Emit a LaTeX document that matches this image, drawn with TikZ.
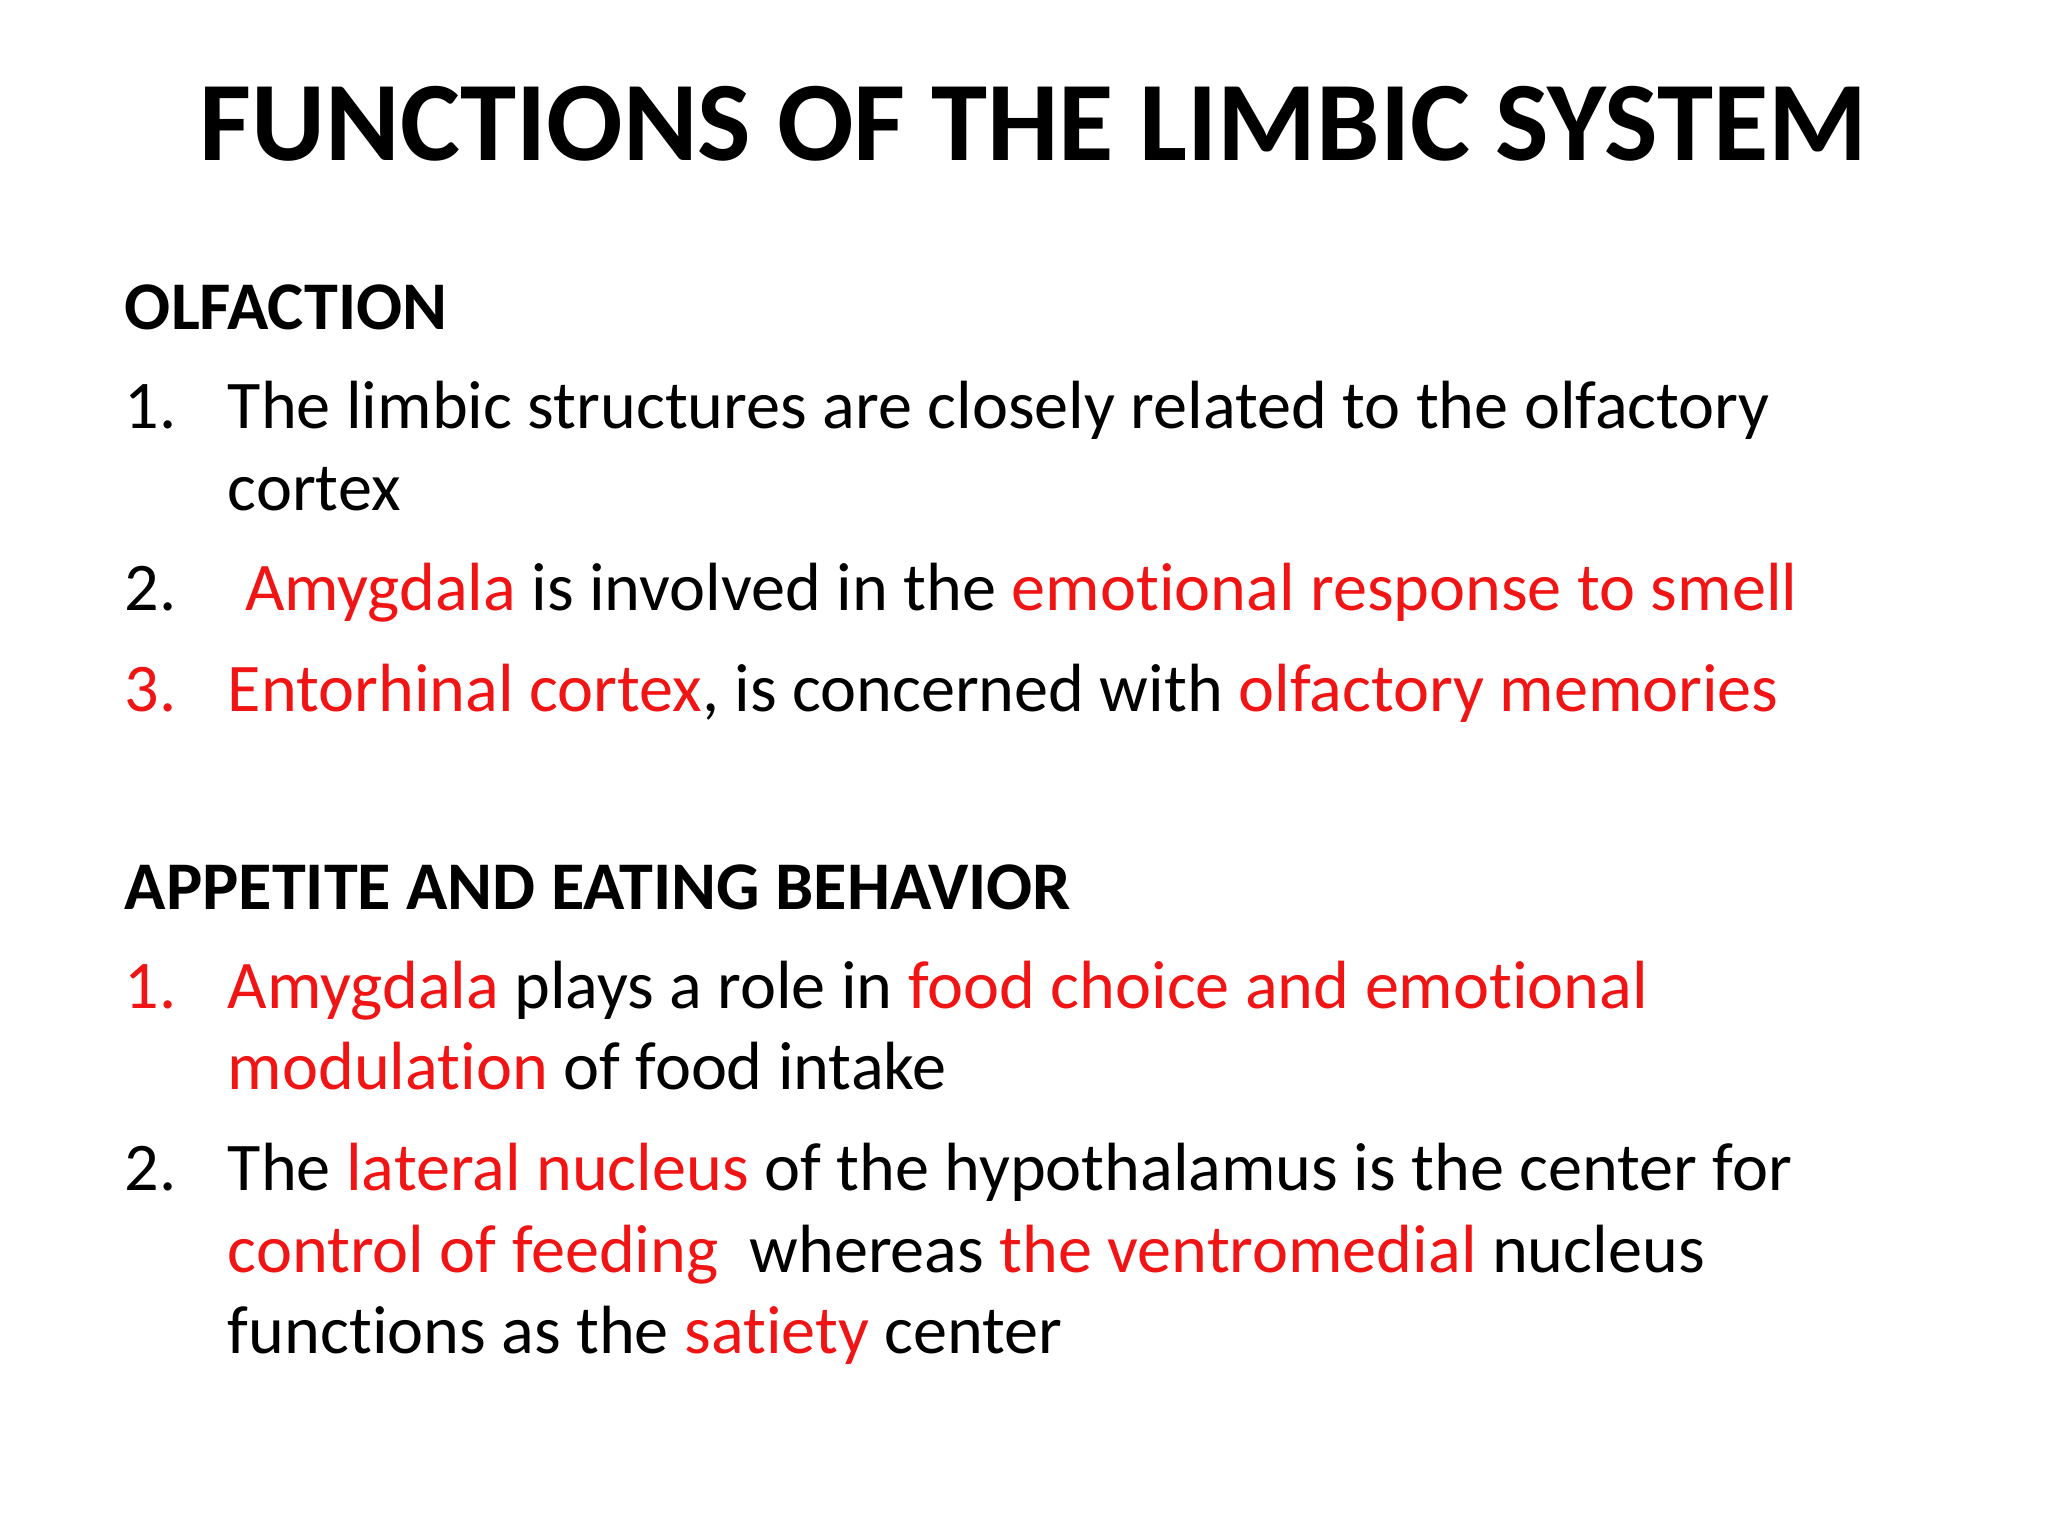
\documentclass[tikz,border=0pt]{standalone}
\usepackage{fontspec}
\setmainfont[Ligatures={NoCommon,NoRequired,NoContextual,NoDiscretionary}]{Carlito}
\definecolor{rd}{RGB}{240,20,20}
\begin{document}
\begin{tikzpicture}[x=0.01cm,y=-0.01cm,
  ln/.style={anchor=base west,inner sep=0pt,font=\fontsize{14.7pt}{18pt}\selectfont}]
\useasboundingbox (0,0) rectangle (1552,1164);
\node[anchor=base,inner sep=0pt,font=\fontsize{24.4pt}{30pt}\selectfont\bfseries] (title) at (783,122) {FUNCTIONS OF THE LIMBIC SYSTEM};
\node[ln,font=\fontsize{14.7pt}{18pt}\selectfont\bfseries] (h1) at (94,250) {OLFACTION};
\node[ln] (n1) at (94,325) {1.};
\node[ln] (t1) at (172,325) {The limbic structures are closely related to the olfactory};
\node[ln] (t1b) at (172,387) {cortex};
\node[ln] (n2) at (94,463) {2.};
\node[ln] (t2) at (185,463) {\textcolor{rd}{Amygdala} is involved in the \textcolor{rd}{emotional response to smell}};
\node[ln,text=rd] (n3) at (94,539) {3.};
\node[ln] (t3) at (172,539) {\textcolor{rd}{Entorhinal cortex}, is concerned with \textcolor{rd}{olfactory memories}};
\node[ln,font=\fontsize{14.7pt}{18pt}\selectfont\bfseries] (h2) at (94,689) {APPETITE AND EATING BEHAVIOR};
\node[ln,text=rd] (m1) at (94,764) {1.};
\node[ln] (u1) at (172,764) {\textcolor{rd}{Amygdala} plays a role in \textcolor{rd}{food choice and emotional}};
\node[ln] (u1b) at (172,826) {\textcolor{rd}{modulation} of food intake};
\node[ln] (m2) at (94,902) {2.};
\node[ln] (u2) at (172,902) {The \textcolor{rd}{lateral nucleus} of the hypothalamus is the center for};
\node[ln] (u2b) at (172,964) {\textcolor{rd}{control of feeding}\ \ whereas \textcolor{rd}{the ventromedial} nucleus};
\node[ln] (u2c) at (172,1026) {functions as the \textcolor{rd}{satiety} center};
\end{tikzpicture}
\end{document}
